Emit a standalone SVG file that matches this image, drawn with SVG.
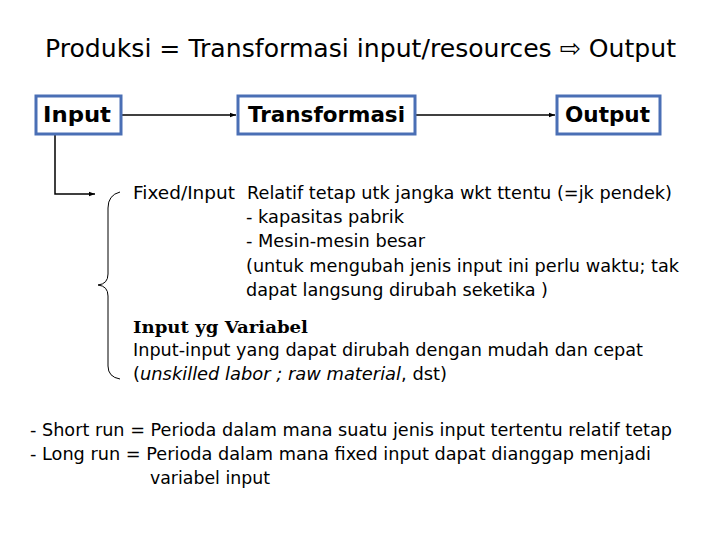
<svg xmlns="http://www.w3.org/2000/svg" width="720" height="540" viewBox="0 0 720 540">
<style>
.t{font-family:"DejaVu Sans","Liberation Sans",sans-serif;font-size:17.5px;fill:#000}
.b{font-family:"DejaVu Sans","Liberation Sans",sans-serif;font-size:22px;font-weight:bold;fill:#000}
.box{fill:#fff;stroke:#4a6fb5;stroke-width:3}
.ln{fill:none;stroke:#000;stroke-width:1.5}
</style>
<defs>
<marker id="ah" viewBox="0 0 8 8" refX="8" refY="4" markerWidth="6" markerHeight="6" orient="auto" markerUnits="userSpaceOnUse"><path d="M0,1 L8,4 L0,7 z" fill="#000"/></marker>
</defs>
<rect width="720" height="540" fill="#fff"/>
<text class="t" x="45" y="57" style="font-size:25px" textLength="631" lengthAdjust="spacingAndGlyphs">Produksi = Transformasi input/resources ⇨ Output</text>
<g id="connectors">
<line class="ln" x1="121" y1="115" x2="236" y2="115" marker-end="url(#ah)"/>
<line class="ln" x1="415" y1="115" x2="555" y2="115" marker-end="url(#ah)"/>
<polyline class="ln" points="55,135 55,194 95,194" marker-end="url(#ah)"/>
<path class="ln" style="stroke-width:1" d="M120,192 Q108,195 108,208 L108,274 Q108,284 98,285 Q108,286 108,296 L108,366 Q108,377 120,379"/>
</g>
<g id="input"><rect class="box" x="36" y="96" width="85" height="38"/><text class="b" x="43" y="122" textLength="68" lengthAdjust="spacingAndGlyphs">Input</text></g>
<g id="transformasi"><rect class="box" x="238" y="96" width="177" height="38"/><text class="b" x="248" y="122" textLength="157" lengthAdjust="spacingAndGlyphs">Transformasi</text></g>
<g id="output"><rect class="box" x="557" y="96" width="103" height="38"/><text class="b" x="565" y="122" textLength="85" lengthAdjust="spacingAndGlyphs">Output</text></g>
<g id="fixed">
<text class="t" x="133" y="199" textLength="102" lengthAdjust="spacingAndGlyphs">Fixed/Input</text>
<text class="t" x="247" y="199" textLength="425" lengthAdjust="spacingAndGlyphs">Relatif tetap utk jangka wkt ttentu (=jk pendek)</text>
<text class="t" x="246" y="223" textLength="158" lengthAdjust="spacingAndGlyphs">- kapasitas pabrik</text>
<text class="t" x="246" y="247" textLength="179" lengthAdjust="spacingAndGlyphs">- Mesin-mesin besar</text>
<text class="t" x="246" y="272" textLength="433" lengthAdjust="spacingAndGlyphs">(untuk mengubah jenis input ini perlu waktu; tak</text>
<text class="t" x="246" y="296" textLength="302" lengthAdjust="spacingAndGlyphs">dapat langsung dirubah seketika )</text>
</g>
<g id="variabel">
<text class="t" x="133" y="333" style="font-weight:bold;font-family:'DejaVu Serif','Liberation Serif',serif" textLength="175" lengthAdjust="spacingAndGlyphs">Input yg Variabel</text>
<text class="t" x="133" y="356" textLength="510" lengthAdjust="spacingAndGlyphs">Input-input yang dapat dirubah dengan mudah dan cepat</text>
<text class="t" x="133" y="380" textLength="314" lengthAdjust="spacingAndGlyphs">(<tspan font-style="italic">unskilled labor ; raw material</tspan>, dst)</text>
</g>
<g id="notes">
<text class="t" x="30" y="436" textLength="642" lengthAdjust="spacingAndGlyphs">- Short run = Perioda dalam mana suatu jenis input tertentu relatif tetap</text>
<text class="t" x="30" y="460" textLength="621" lengthAdjust="spacingAndGlyphs">- Long run = Perioda dalam mana fixed input dapat dianggap menjadi</text>
<text class="t" x="150" y="484" textLength="120" lengthAdjust="spacingAndGlyphs">variabel input</text>
</g>
</svg>
